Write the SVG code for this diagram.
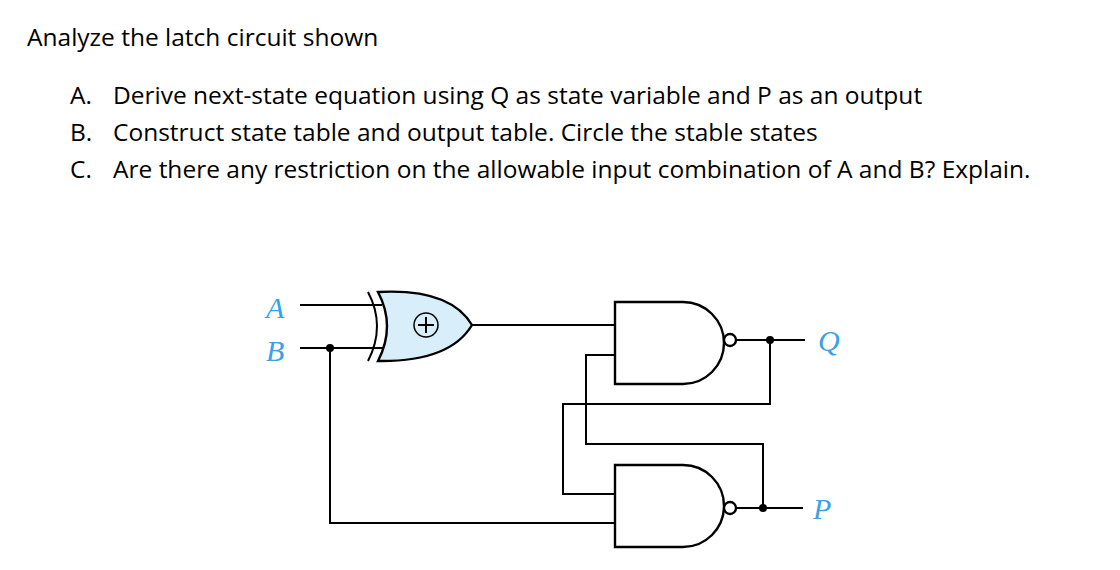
<svg xmlns="http://www.w3.org/2000/svg" width="1120" height="570" viewBox="0 0 1120 570">
<style>
.t{font-family:"Open Sans","Liberation Sans",sans-serif;font-size:24.5px;fill:#000}
.w{fill:none;stroke:#000;stroke-width:2}
.g{fill:#fff;stroke:#000;stroke-width:2.4}
.l{font-family:"Liberation Serif",serif;font-style:italic;font-size:30px;fill:#3aa0e8}
</style>
<rect width="1120" height="570" fill="#fff"/>
<text class="t" x="27" y="46">Analyze the latch circuit shown</text>
<text class="t" x="70" y="104">A.</text><text class="t" x="113" y="104">Derive next-state equation using Q as state variable and P as an output</text>
<text class="t" x="70" y="141">B.</text><text class="t" x="113" y="141">Construct state table and output table. Circle the stable states</text>
<text class="t" x="70" y="178">C.</text><text class="t" x="113" y="178">Are there any restriction on the allowable input combination of A and B? Explain.</text>
<g id="labels">
<text class="l" x="266" y="318">A</text>
<text class="l" x="266" y="361">B</text>
<text class="l" x="818" y="351">Q</text>
<text class="l" x="813" y="519">P</text>
</g>
<g id="connectors">
<path class="w" d="M300 305H382M300 348H384M330 348V523H616M472 325H616M616 355H586V444H763V508M770 340V404H563V494H616M737 340H805M737 508H803"/>
<circle cx="330" cy="348" r="4"/><circle cx="770" cy="340" r="4"/><circle cx="763" cy="508" r="4"/>
</g>
<g id="xor">
<path d="M378 292Q450 288 472 325Q450 362 378 361Q396 326 378 292Z" fill="#d8eefa" stroke="#000" stroke-width="2.4"/>
<path class="w" d="M368 292Q386 326 368 361" stroke-width="2.4"/>
<circle cx="426" cy="325" r="12" fill="none" stroke="#000" stroke-width="1.5"/>
<path d="M426 317V333M418 325H434" stroke="#000" stroke-width="2"/>
</g>
<g id="nand1">
<path class="g" d="M615 302H683A41 41 0 0 1 683 384H615Z"/>
<circle cx="730" cy="340" r="6" class="g" stroke-width="1.8"/>
</g>
<g id="nand2">
<path class="g" d="M615 465H683A41 41 0 0 1 683 547H615Z"/>
<circle cx="730" cy="508" r="6" class="g" stroke-width="1.8"/>
</g>
</svg>
